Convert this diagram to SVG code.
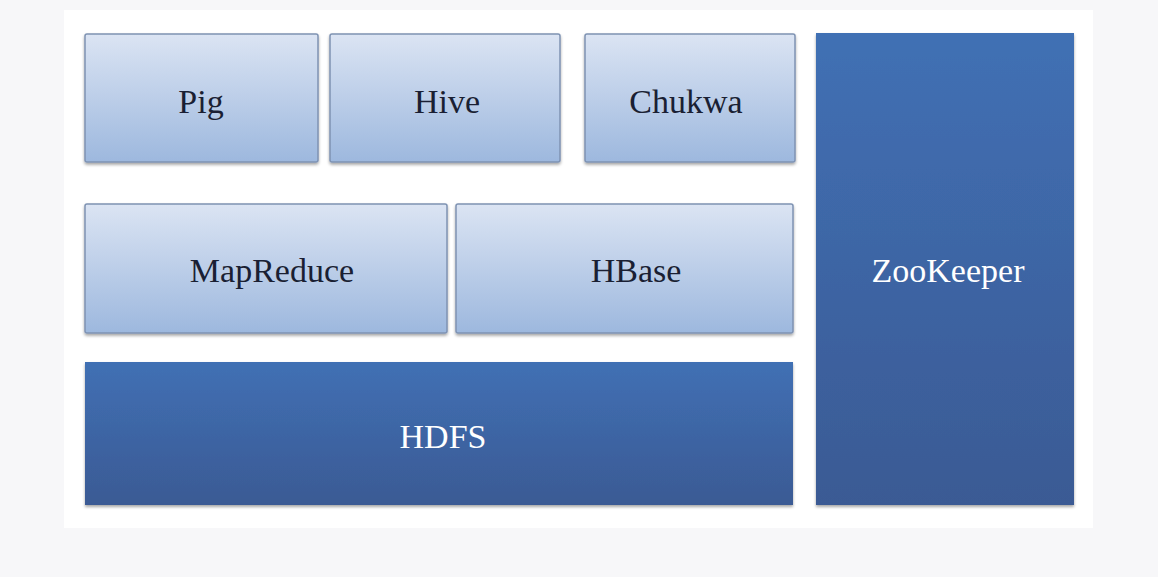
<svg xmlns="http://www.w3.org/2000/svg" width="1158" height="577" viewBox="0 0 1158 577">
<style>
.light{fill:url(#lg);stroke:#7f93b3;stroke-width:1.5;filter:url(#sh)}
.dark{fill:url(#dg);filter:url(#sh)}
.t{font-family:"Liberation Serif",serif;font-size:34px;text-anchor:middle;dominant-baseline:central}
.tl{fill:#1a1f33}.td{fill:#ffffff}
</style>
<defs>
<linearGradient id="lg" x1="0" y1="0" x2="0" y2="1"><stop offset="0" stop-color="#dbe4f3"/><stop offset="1" stop-color="#9db8de"/></linearGradient>
<linearGradient id="dg" x1="0" y1="0" x2="0" y2="1"><stop offset="0" stop-color="#4170b4"/><stop offset="1" stop-color="#3a5a94"/></linearGradient>
<filter id="sh" x="-5%" y="-5%" width="110%" height="115%"><feDropShadow dx="0" dy="2" stdDeviation="1.5" flood-color="#000" flood-opacity="0.35"/></filter>
</defs>
<rect width="1158" height="577" fill="#f7f7f9"/>
<rect x="64" y="10" width="1029" height="518" fill="#ffffff"/>
<g id="pig"><rect class="light" x="85" y="34" width="233" height="128" rx="2"/><text class="t tl" x="201" y="101">Pig</text></g>
<g id="hive"><rect class="light" x="330" y="34" width="230" height="128" rx="2"/><text class="t tl" x="447" y="101">Hive</text></g>
<g id="chukwa"><rect class="light" x="585" y="34" width="210" height="128" rx="2"/><text class="t tl" x="686" y="101">Chukwa</text></g>
<g id="mapreduce"><rect class="light" x="85" y="204" width="362" height="129" rx="2"/><text class="t tl" x="272" y="270">MapReduce</text></g>
<g id="hbase"><rect class="light" x="456" y="204" width="337" height="129" rx="2"/><text class="t tl" x="636" y="270">HBase</text></g>
<g id="hdfs"><rect class="dark" x="85" y="362" width="708" height="143"/><text class="t td" x="443" y="436">HDFS</text></g>
<g id="zookeeper"><rect class="dark" x="816" y="33" width="258" height="472"/><text class="t td" x="948" y="270">ZooKeeper</text></g>
<g id="connectors"></g>
</svg>
